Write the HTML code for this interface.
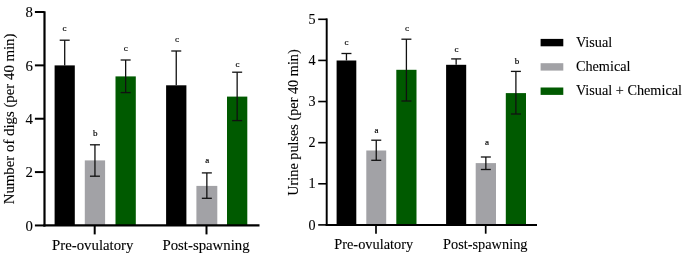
<!DOCTYPE html>
<html><head><meta charset="utf-8"><title>Figure</title>
<style>
html,body{margin:0;padding:0;background:#fff;}
body{width:685px;height:258px;overflow:hidden;}
svg{display:block;}
svg text{font-family:"Liberation Serif", serif;fill:#000;stroke:#000;stroke-width:0.1px;}
</style></head>
<body>
<svg width="685" height="258" viewBox="0 0 685 258">
<rect x="0" y="0" width="685" height="258" fill="#ffffff"/>
<rect x="54.60" y="65.40" width="20.20" height="160.05" fill="#000000"/>
<rect x="84.80" y="160.40" width="20.30" height="65.05" fill="#a2a2a6"/>
<rect x="115.50" y="76.40" width="20.30" height="149.05" fill="#005a00"/>
<rect x="166.10" y="85.30" width="20.30" height="140.15" fill="#000000"/>
<rect x="196.40" y="185.90" width="20.90" height="39.55" fill="#a2a2a6"/>
<rect x="227.00" y="96.60" width="20.30" height="128.85" fill="#005a00"/>
<line x1="64.70" y1="40.20" x2="64.70" y2="65.40" stroke="#111" stroke-width="1.3"/>
<line x1="59.70" y1="40.20" x2="69.70" y2="40.20" stroke="#111" stroke-width="1.3"/>
<text x="64.60" y="31.20" font-size="9.0" text-anchor="middle" style="stroke-width:0.18px">c</text>
<line x1="94.95" y1="144.80" x2="94.95" y2="176.20" stroke="#111" stroke-width="1.3"/>
<line x1="89.95" y1="144.80" x2="99.95" y2="144.80" stroke="#111" stroke-width="1.3"/>
<line x1="89.95" y1="176.20" x2="99.95" y2="176.20" stroke="#111" stroke-width="1.3"/>
<text x="95.20" y="136.30" font-size="9.0" text-anchor="middle" style="stroke-width:0.18px">b</text>
<line x1="125.65" y1="60.00" x2="125.65" y2="92.60" stroke="#111" stroke-width="1.3"/>
<line x1="120.65" y1="60.00" x2="130.65" y2="60.00" stroke="#111" stroke-width="1.3"/>
<line x1="120.65" y1="92.60" x2="130.65" y2="92.60" stroke="#111" stroke-width="1.3"/>
<text x="125.80" y="50.60" font-size="9.0" text-anchor="middle" style="stroke-width:0.18px">c</text>
<line x1="176.25" y1="51.00" x2="176.25" y2="85.30" stroke="#111" stroke-width="1.3"/>
<line x1="171.25" y1="51.00" x2="181.25" y2="51.00" stroke="#111" stroke-width="1.3"/>
<text x="177.00" y="42.30" font-size="9.0" text-anchor="middle" style="stroke-width:0.18px">c</text>
<line x1="206.85" y1="172.90" x2="206.85" y2="198.30" stroke="#111" stroke-width="1.3"/>
<line x1="201.85" y1="172.90" x2="211.85" y2="172.90" stroke="#111" stroke-width="1.3"/>
<line x1="201.85" y1="198.30" x2="211.85" y2="198.30" stroke="#111" stroke-width="1.3"/>
<text x="207.30" y="163.00" font-size="9.0" text-anchor="middle" style="stroke-width:0.18px">a</text>
<line x1="237.15" y1="72.20" x2="237.15" y2="120.60" stroke="#111" stroke-width="1.3"/>
<line x1="232.15" y1="72.20" x2="242.15" y2="72.20" stroke="#111" stroke-width="1.3"/>
<line x1="232.15" y1="120.60" x2="242.15" y2="120.60" stroke="#111" stroke-width="1.3"/>
<text x="237.60" y="66.50" font-size="9.0" text-anchor="middle" style="stroke-width:0.18px">c</text>
<line x1="44.50" y1="11.30" x2="44.50" y2="226.55" stroke="#000" stroke-width="2.2"/>
<line x1="43.40" y1="225.45" x2="259.50" y2="225.45" stroke="#000" stroke-width="2.2"/>
<line x1="34.90" y1="225.45" x2="44.50" y2="225.45" stroke="#000" stroke-width="2.0"/>
<text x="33.00" y="230.65" font-size="14.8" text-anchor="end" >0</text>
<line x1="34.90" y1="172.09" x2="44.50" y2="172.09" stroke="#000" stroke-width="2.0"/>
<text x="33.00" y="177.29" font-size="14.8" text-anchor="end" >2</text>
<line x1="34.90" y1="118.73" x2="44.50" y2="118.73" stroke="#000" stroke-width="2.0"/>
<text x="33.00" y="123.93" font-size="14.8" text-anchor="end" >4</text>
<line x1="34.90" y1="65.37" x2="44.50" y2="65.37" stroke="#000" stroke-width="2.0"/>
<text x="33.00" y="70.57" font-size="14.8" text-anchor="end" >6</text>
<line x1="34.90" y1="12.01" x2="44.50" y2="12.01" stroke="#000" stroke-width="2.0"/>
<text x="33.00" y="17.21" font-size="14.8" text-anchor="end" >8</text>
<line x1="94.70" y1="225.45" x2="94.70" y2="234.40" stroke="#000" stroke-width="2.0"/>
<line x1="206.50" y1="225.45" x2="206.50" y2="234.40" stroke="#000" stroke-width="2.0"/>
<text x="92.75" y="249.50" font-size="14.8" text-anchor="middle" >Pre-ovulatory</text>
<text x="206.05" y="249.50" font-size="14.8" text-anchor="middle" >Post-spawning</text>
<text transform="translate(14.0,118.9) rotate(-90)" font-size="14.82" text-anchor="middle">Number of digs (per 40 min)</text>
<rect x="336.60" y="60.50" width="19.70" height="164.40" fill="#000000"/>
<rect x="366.30" y="150.50" width="19.90" height="74.40" fill="#a2a2a6"/>
<rect x="396.30" y="69.80" width="20.20" height="155.10" fill="#005a00"/>
<rect x="446.10" y="64.80" width="20.10" height="160.10" fill="#000000"/>
<rect x="475.70" y="163.10" width="20.30" height="61.80" fill="#a2a2a6"/>
<rect x="505.80" y="93.10" width="20.20" height="131.80" fill="#005a00"/>
<line x1="346.45" y1="53.50" x2="346.45" y2="60.50" stroke="#111" stroke-width="1.3"/>
<line x1="341.45" y1="53.50" x2="351.45" y2="53.50" stroke="#111" stroke-width="1.3"/>
<text x="346.50" y="45.40" font-size="9.0" text-anchor="middle" style="stroke-width:0.18px">c</text>
<line x1="376.25" y1="140.20" x2="376.25" y2="160.30" stroke="#111" stroke-width="1.3"/>
<line x1="371.25" y1="140.20" x2="381.25" y2="140.20" stroke="#111" stroke-width="1.3"/>
<line x1="371.25" y1="160.30" x2="381.25" y2="160.30" stroke="#111" stroke-width="1.3"/>
<text x="376.40" y="133.00" font-size="9.0" text-anchor="middle" style="stroke-width:0.18px">a</text>
<line x1="406.40" y1="39.20" x2="406.40" y2="101.00" stroke="#111" stroke-width="1.3"/>
<line x1="401.40" y1="39.20" x2="411.40" y2="39.20" stroke="#111" stroke-width="1.3"/>
<line x1="401.40" y1="101.00" x2="411.40" y2="101.00" stroke="#111" stroke-width="1.3"/>
<text x="407.00" y="31.20" font-size="9.0" text-anchor="middle" style="stroke-width:0.18px">c</text>
<line x1="456.15" y1="58.90" x2="456.15" y2="64.80" stroke="#111" stroke-width="1.3"/>
<line x1="451.15" y1="58.90" x2="461.15" y2="58.90" stroke="#111" stroke-width="1.3"/>
<text x="456.40" y="51.70" font-size="9.0" text-anchor="middle" style="stroke-width:0.18px">c</text>
<line x1="485.85" y1="157.00" x2="485.85" y2="169.50" stroke="#111" stroke-width="1.3"/>
<line x1="480.85" y1="157.00" x2="490.85" y2="157.00" stroke="#111" stroke-width="1.3"/>
<line x1="480.85" y1="169.50" x2="490.85" y2="169.50" stroke="#111" stroke-width="1.3"/>
<text x="486.90" y="145.40" font-size="9.0" text-anchor="middle" style="stroke-width:0.18px">a</text>
<line x1="515.90" y1="71.40" x2="515.90" y2="114.00" stroke="#111" stroke-width="1.3"/>
<line x1="510.90" y1="71.40" x2="520.90" y2="71.40" stroke="#111" stroke-width="1.3"/>
<line x1="510.90" y1="114.00" x2="520.90" y2="114.00" stroke="#111" stroke-width="1.3"/>
<text x="517.00" y="63.60" font-size="9.0" text-anchor="middle" style="stroke-width:0.18px">b</text>
<line x1="326.70" y1="18.40" x2="326.70" y2="225.88" stroke="#000" stroke-width="1.95"/>
<line x1="325.72" y1="224.90" x2="537.00" y2="224.90" stroke="#000" stroke-width="1.95"/>
<line x1="318.20" y1="224.90" x2="326.70" y2="224.90" stroke="#000" stroke-width="1.6"/>
<text x="315.60" y="229.60" font-size="14.1" text-anchor="end" >0</text>
<line x1="318.20" y1="183.78" x2="326.70" y2="183.78" stroke="#000" stroke-width="1.6"/>
<text x="315.60" y="188.48" font-size="14.1" text-anchor="end" >1</text>
<line x1="318.20" y1="142.66" x2="326.70" y2="142.66" stroke="#000" stroke-width="1.6"/>
<text x="315.60" y="147.36" font-size="14.1" text-anchor="end" >2</text>
<line x1="318.20" y1="101.54" x2="326.70" y2="101.54" stroke="#000" stroke-width="1.6"/>
<text x="315.60" y="106.24" font-size="14.1" text-anchor="end" >3</text>
<line x1="318.20" y1="60.42" x2="326.70" y2="60.42" stroke="#000" stroke-width="1.6"/>
<text x="315.60" y="65.12" font-size="14.1" text-anchor="end" >4</text>
<line x1="318.20" y1="19.30" x2="326.70" y2="19.30" stroke="#000" stroke-width="1.6"/>
<text x="315.60" y="24.00" font-size="14.1" text-anchor="end" >5</text>
<line x1="376.00" y1="224.90" x2="376.00" y2="233.70" stroke="#000" stroke-width="1.7"/>
<line x1="485.70" y1="224.90" x2="485.70" y2="233.70" stroke="#000" stroke-width="1.7"/>
<text x="373.70" y="248.50" font-size="14.35" text-anchor="middle" >Pre-ovulatory</text>
<text x="485.25" y="248.50" font-size="14.35" text-anchor="middle" >Post-spawning</text>
<text transform="translate(297.9,122.5) rotate(-90)" font-size="14.25" text-anchor="middle">Urine pulses (per 40 min)</text>
<rect x="540.60" y="38.90" width="22.70" height="7.40" fill="#000000"/>
<text x="575.90" y="46.55" font-size="14.25" text-anchor="start" >Visual</text>
<rect x="540.60" y="63.20" width="22.70" height="7.40" fill="#a2a2a6"/>
<text x="575.90" y="70.85" font-size="14.25" text-anchor="start" >Chemical</text>
<rect x="540.60" y="87.50" width="22.70" height="7.40" fill="#005a00"/>
<text x="575.90" y="95.15" font-size="14.25" text-anchor="start" >Visual + Chemical</text>
</svg>
</body></html>
